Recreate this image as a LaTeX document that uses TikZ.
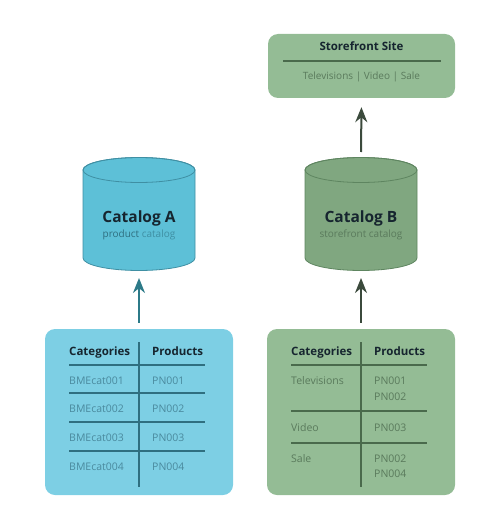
\documentclass[tikz,border=0pt]{standalone}
\usepackage{fontspec}
\setmainfont{Open Sans}
\usetikzlibrary{arrows.meta}
\definecolor{bluebox}{HTML}{7DCFE4}
\definecolor{bluecyl}{HTML}{5DC0D7}
\definecolor{blueedge}{HTML}{3F8FA3}
\definecolor{bluetext}{HTML}{4A8A9E}
\definecolor{blueline}{HTML}{2F6F80}
\definecolor{bluearrow}{HTML}{2C7A88}
\definecolor{greenbox}{HTML}{94BC95}
\definecolor{greencyl}{HTML}{80A780}
\definecolor{greenedge}{HTML}{5E8560}
\definecolor{greentext}{HTML}{5A7A5C}
\definecolor{greenline}{HTML}{4A6A4C}
\definecolor{greenarrow}{HTML}{3B4A3C}
\definecolor{inkdark}{HTML}{16252F}
\begin{document}
\begin{tikzpicture}[x=1pt,y=-1pt,
  panel/.style={rounded corners=10pt, minimum width=188pt, minimum height=166pt},
  head/.style={font=\fontsize{11.5}{14}\selectfont\bfseries, text=inkdark, anchor=base west, inner sep=0pt},
  cell/.style={font=\fontsize{10.5}{14}\selectfont, anchor=base west, inner sep=0pt},
  cyltitle/.style={font=\fontsize{15.5}{18}\selectfont\bfseries, text=inkdark, anchor=base},
  cylsub/.style={font=\fontsize{10}{12}\selectfont, anchor=base},
  uparrow/.style={line width=2pt, -{Stealth[length=15pt,width=12pt]}}]
\useasboundingbox (0,0) rectangle (500,532);
% storefront site
\node[fill=greenbox, rounded corners=10pt, minimum width=187pt, minimum height=64pt] (site) at (361.5,66) {};
\node[font=\fontsize{11.5}{14}\selectfont\bfseries, text=inkdark, anchor=base] (sitetitle) at (361.5,51) {Storefront Site};
\draw[greenline, line width=1.2pt] (283,61) -- (441,61);
\node[font=\fontsize{10}{12}\selectfont, text=greentext, anchor=base] (sitelist) at (361.5,80) {Televisions | Video | Sale};
% catalog A
\filldraw[fill=bluecyl, draw=blueedge, line width=0.8pt] (83,170) -- (83,258)
  arc[start angle=180, end angle=0, x radius=56, y radius=12.5] -- (195,170)
  arc[start angle=0, end angle=-180, x radius=56, y radius=12.5] -- cycle;
\draw[blueedge, line width=0.8pt] (139,170) ellipse[x radius=56, y radius=12.5];
\node[cyltitle] (catA) at (139,222.5) {Catalog A};
\node[cylsub] (catAsub) at (139,237.5) {\textcolor{blueline}{product} \textcolor{blueedge}{catalog}};
\coordinate (catAbot) at (139,270);
% catalog B
\filldraw[fill=greencyl, draw=greenedge, line width=0.8pt] (305,170) -- (305,258)
  arc[start angle=180, end angle=0, x radius=56, y radius=12.5] -- (417,170)
  arc[start angle=0, end angle=-180, x radius=56, y radius=12.5] -- cycle;
\draw[greenedge, line width=0.8pt] (361,170) ellipse[x radius=56, y radius=12.5];
\node[cyltitle] (catB) at (361,222.5) {Catalog B};
\node[cylsub, text=greentext] (catBsub) at (361,237.5) {storefront catalog};
\coordinate (catBtop) at (361,158);
\coordinate (catBbot) at (361,270);
% table A
\node[panel, fill=bluebox] (tableA) at (139,412) {};
\node[head] (catsA) at (69,355) {Categories};
\node[head] (prodsA) at (152,355) {Products};
\draw[blueline, line width=1.2pt] (69,365) -- (205,365);
\draw[blueline, line width=1.2pt] (139,342) -- (139,487);
\foreach \y in {393,422,451}
  \draw[blueline, line width=1.2pt] (69,\y) -- (205,\y);
\foreach \n/\y in {1/384,2/412,3/441,4/470} {
  \node[cell, text=bluetext] (bme\n) at (69,\y) {BMEcat00\n};
  \node[cell, text=bluetext] (pnA\n) at (152,\y) {PN00\n};
}
% table B
\node[panel, fill=greenbox] (tableB) at (361,412) {};
\node[head] (catsB) at (291,355) {Categories};
\node[head] (prodsB) at (374,355) {Products};
\draw[greenline, line width=1.2pt] (291,365) -- (427,365);
\draw[greenline, line width=1.2pt] (361,342) -- (361,487);
\draw[greenline, line width=1.2pt] (291,411) -- (427,411);
\draw[greenline, line width=1.2pt] (291,443) -- (427,443);
\node[cell, text=greentext] (tv) at (291,384) {Televisions};
\node[cell, text=greentext] (tvp1) at (374,384) {PN001};
\node[cell, text=greentext] (tvp2) at (374,400) {PN002};
\node[cell, text=greentext] (video) at (291,431) {Video};
\node[cell, text=greentext] (videop) at (374,431) {PN003};
\node[cell, text=greentext] (sale) at (291,462) {Sale};
\node[cell, text=greentext] (salep1) at (374,462) {PN002};
\node[cell, text=greentext] (salep2) at (374,477) {PN004};
% arrows
\draw[uparrow, bluearrow, shorten <=6pt, shorten >=8pt] (tableA.north) -- (catAbot);
\draw[uparrow, greenarrow, shorten <=6pt, shorten >=8pt] (tableB.north) -- (catBbot);
\draw[uparrow, greenarrow, shorten <=6pt, shorten >=9pt] (catBtop) -- (site.south);
\end{tikzpicture}
\end{document}
